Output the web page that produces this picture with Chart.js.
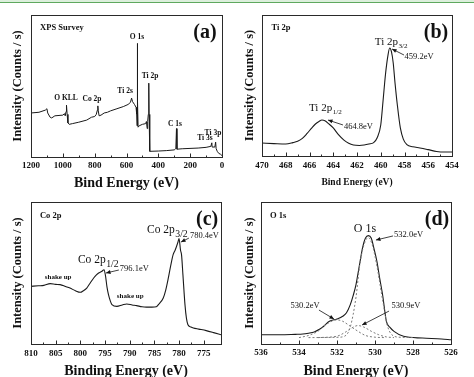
<!DOCTYPE html>
<html lang="en">
<head>
<meta charset="UTF-8">
<title>XPS spectra</title>
<script src="https://cdn.jsdelivr.net/npm/chart.js"></script>
<style>
  body { margin: 0; background: #fff; }
  #fig { position: relative; width: 474px; height: 377px; overflow: hidden; background: #fff; }
  #fig canvas { position: absolute; }
  .topline { position: absolute; left: 0; top: 0; width: 474px; height: 3px; background: #dcefdc; border-bottom: 1px solid #5ea85e; box-sizing: border-box; }
</style>
</head>
<body>
<div id="fig">
  <div class="topline"></div>
  <canvas id="chartA" width="237" height="190" style="left:0;top:0"></canvas>
  <canvas id="chartB" width="237" height="190" style="left:237px;top:0"></canvas>
  <canvas id="chartC" width="237" height="189" style="left:0;top:188px"></canvas>
  <canvas id="chartD" width="237" height="189" style="left:237px;top:188px"></canvas>
</div>
<script>
// (a) survey spectrum, intensity in arbitrary units (0-100)
const surveyEnergy = [1200, 1150, 1110, 1100, 1095, 1080, 1070, 1050, 1000, 990, 985, 980, 977, 973, 968, 960, 940, 900, 850, 820, 800, 790, 783, 780, 778, 772, 760, 740, 720, 700, 660, 620, 590, 575, 568, 562, 550, 540, 536, 534, 533, 531, 529, 527, 520, 500, 480, 475, 470, 467, 463, 460, 458, 455, 453, 400, 350, 300, 290, 286, 283, 250, 150, 100, 70, 64, 62, 45, 40, 37, 30, 20, 10, 0];
const surveyCounts = [31, 31.5, 33, 34, 31, 28, 27.5, 29, 29.5, 30.5, 29, 32, 36.5, 30, 24, 23, 23.5, 24.5, 26, 28, 28.5, 30, 33, 36, 33, 29, 29.5, 31, 31.5, 32.5, 34, 35.5, 37, 38.5, 41.5, 39, 37, 35, 30, 22, 30, 80, 40, 21, 22, 23, 23.5, 25, 20, 25, 30, 52, 30, 15, 4, 4.2, 4.5, 5, 6, 20, 5.5, 5.8, 6.3, 6.8, 7.5, 10, 7, 7, 10.5, 6, 4, 2.5, 2, 1];
const surveyTicks = [1200, 1000, 800, 600, 400, 200, 0];

// (b) Ti 2p
const ti2pEnergy = [470, 469, 468, 467.4, 467, 466.6, 466.2, 465.8, 465.5, 465.2, 464.95, 464.7, 464.4, 464, 463.6, 463.1, 462.7, 462.3, 461.8, 461.4, 461, 460.6, 460.3, 460, 459.8, 459.6, 459.4, 459.25, 459.1, 458.95, 458.8, 458.6, 458.35, 458.1, 457.8, 457.3, 456.7, 456, 455.3, 454.6, 454];
const ti2pCounts = [9.2, 8.8, 8.5, 9.5, 10.5, 12.5, 16, 20, 22.7, 24.5, 25.5, 25, 23, 19.9, 15.5, 11.3, 9, 7.8, 7.5, 7.8, 8.5, 9.5, 13, 22, 39.7, 58, 71, 76.6, 74, 66, 52, 36, 19.9, 12, 8, 6.5, 5.7, 4.5, 3.2, 2.8, 2.8];
const ti2pTicks = [470, 468, 466, 464, 462, 460, 458, 456, 454];

// (c) Co 2p
const co2pEnergy = [810, 808.5, 807.4, 806.1, 805, 804.1, 803, 802.1, 801, 800, 799.4, 798.7, 798, 797.3, 796.7, 796.3, 795.7, 795.2, 794.9, 794.6, 794.3, 793.9, 793.6, 792.6, 791.5, 790.6, 789.5, 788.6, 787.5, 786.6, 785.5, 784.6, 784, 783.2, 782.7, 782.2, 781.7, 781.2, 780.8, 780.5, 780.2, 780, 779.7, 779.5, 779.2, 778.8, 778.5, 778.2, 777.6, 777.1, 776, 774.5, 773, 771.5];
const co2pCounts = [40.6, 41, 41.3, 42.5, 42, 41.8, 40.5, 39.4, 37.5, 36.4, 37.5, 39.4, 43, 46.5, 48.8, 50, 51, 52.3, 48, 40, 34.7, 30, 27.7, 26.5, 27.5, 28.2, 27.5, 27, 26.2, 26, 26, 26.3, 28.5, 32.4, 38, 46, 55, 62.9, 66, 68.8, 72, 74.2, 66, 62.9, 48, 27.7, 18, 13.6, 12, 11.3, 10.5, 9.4, 8, 6.5];
const co2pTicks = [810, 805, 800, 795, 790, 785, 780, 775];

// (d) O 1s, measured curve and three fitted components
const o1sEnergy = [536, 535, 534.2, 533.8, 533.5, 533.2, 532.9, 532.7, 532.4, 532, 531.7, 531.5, 531.3, 531.15, 531, 530.8, 530.65, 530.5, 530.35, 530.2, 530.05, 529.9, 529.75, 529.6, 529.4, 529.2, 529, 528.5, 527.5, 526.5, 526];
const o1sCounts = [6.5, 6.5, 6.8, 7, 7.6, 8.5, 10.5, 12.5, 16, 17.6, 19.5, 22, 27.7, 34, 41.8, 57, 68, 74.6, 76.3, 74.6, 67, 58.2, 46, 34.7, 16, 11.5, 8.9, 5.4, 4.2, 3.5, 3];
const fitMainEnergy = [533.5, 532, 531.6, 531.3, 531, 530.8, 530.55, 530.35, 530.15, 529.9, 529.6, 529.35, 529, 528.6, 528];
const fitMainCounts = [4.5, 4.7, 5.5, 12, 33, 56, 71, 75, 70, 55, 31, 13, 5.5, 4.7, 4.5];
const fitHighEnergy = [534, 533.5, 533, 532.6, 532.2, 532, 531.7, 531.3, 530.9, 530.5, 530, 529.5];
const fitHighCounts = [4.5, 6, 9, 13.5, 16.5, 17, 16, 12.5, 9, 6, 4.8, 4.5];
const fitMidEnergy = [533, 532, 531.6, 531.2, 530.9, 530.6, 530.2, 529.8, 529.4, 529];
const fitMidCounts = [4.5, 5.5, 8, 11.5, 13, 12, 9, 6.5, 5, 4.5];
const o1sTicks = [536, 534, 532, 530, 528, 526];

// labels written on the panels (data coordinates)
const notesA = [
  { x: 1143, y: 90.8, text: 'XPS Survey', size: 8.5, bold: true, align: 'left' },
  { x: 107, y: 87.3, text: '(a)', size: 20, bold: true },
  { x: 534, y: 84.5, text: 'O 1s', size: 7.5, bold: true },
  { x: 452, y: 57, text: 'Ti 2p', size: 7.5, bold: true },
  { x: 609, y: 46.5, text: 'Ti 2s', size: 7.5, bold: true },
  { x: 980, y: 41.5, text: 'O KLL', size: 7.5, bold: true },
  { x: 817, y: 40.8, text: 'Co 2p', size: 7.5, bold: true },
  { x: 295, y: 23.2, text: 'C 1s', size: 7.5, bold: true },
  { x: 57, y: 16.9, text: 'Ti 3p', size: 7.5, bold: true },
  { x: 107, y: 13.4, text: 'Ti 3s', size: 7.5, bold: true }
];
const notesB = [
  { x: 469.2, y: 90.8, text: 'Ti 2p', size: 8.5, bold: true, align: 'left' },
  { x: 455.35, y: 87.2, text: '(b)', size: 20, bold: true },
  { x: 460.5, y: 80.9, text: 'Ti 2p', sub: '3/2', size: 11, align: 'left' },
  { x: 458.0, y: 70.2, text: '459.2eV', size: 8.5, align: 'left', arrow: [458.04, 71.6, 459.05, 75.9] },
  { x: 466.04, y: 34, text: 'Ti 2p', sub: '1/2', size: 11, align: 'left' },
  { x: 463.1, y: 20.6, text: '464.8eV', size: 8.5, align: 'left', arrow: [463.18, 22, 464.44, 25.5] }
];
const notesC = [
  { x: 808.2, y: 90.1, text: 'Co 2p', size: 8.5, bold: true, align: 'left' },
  { x: 774.3, y: 87.3, text: '(c)', size: 20, bold: true },
  { x: 786.5, y: 80.3, text: 'Co 2p', sub: '3/2', size: 11.5, subScale: 0.85, align: 'left' },
  { x: 777.8, y: 76, text: '780.4eV', size: 8.5, align: 'left', arrow: [778.0, 74.6, 779.6, 71.8] },
  { x: 800.5, y: 59.2, text: 'Co 2p', sub: '1/2', size: 11.5, subScale: 0.85, align: 'left' },
  { x: 792.0, y: 52.8, text: '796.1eV', size: 8.5, align: 'left', arrow: [792.2, 52.1, 794.8, 50] },
  { x: 804.5, y: 47.2, text: 'shake up', size: 7, bold: true },
  { x: 789.9, y: 33.8, text: 'shake up', size: 7, bold: true }
];
const notesD = [
  { x: 535.53, y: 90.1, text: 'O 1s', size: 8.5, bold: true, align: 'left' },
  { x: 526.74, y: 87.3, text: '(d)', size: 20, bold: true },
  { x: 530.53, y: 81, text: 'O 1s', size: 12 },
  { x: 529.0, y: 76.8, text: '532.0eV', size: 8.5, align: 'left', arrow: [529.05, 76.1, 529.95, 73.2] },
  { x: 533.68, y: 26.8, text: '530.2eV', size: 8.5, arrow: [532.95, 23.9, 532.16, 17.6] },
  { x: 528.37, y: 26.8, text: '530.9eV', size: 8.5, arrow: [529.26, 23.2, 530.68, 13.4] }
];

const serif = "'Liberation Serif', 'Times New Roman', serif";
Chart.defaults.font.family = serif;

function zip(xs, ys) {
  return xs.map((x, i) => ({ x: x, y: ys[i] }));
}

// box around the plot area + inward tick marks on the energy axis
const framePlugin = {
  id: 'frame',
  afterDatasetsDraw(chart) {
    const { ctx, chartArea: a } = chart;
    const x = chart.scales.x;
    ctx.save();
    ctx.strokeStyle = '#2a2a2a';
    ctx.lineWidth = 1;
    ctx.strokeRect(Math.round(a.left) + 0.5, Math.round(a.top) + 0.5, Math.round(a.width), Math.round(a.height));
    const vals = x.ticks.map(t => t.value).sort((p, q) => p - q);
    const bottom = Math.round(a.bottom) + 0.5;
    ctx.beginPath();
    vals.forEach((v, i) => {
      const px = Math.round(x.getPixelForValue(v)) + 0.5;
      ctx.moveTo(px, bottom); ctx.lineTo(px, bottom - 4);
      if (i < vals.length - 1) {
        const m = Math.round(x.getPixelForValue((v + vals[i + 1]) / 2)) + 0.5;
        ctx.moveTo(m, bottom); ctx.lineTo(m, bottom - 2);
      }
    });
    ctx.stroke();
    ctx.restore();
  }
};

// peak labels, subscripts and small arrows
const notesPlugin = {
  id: 'notes',
  afterDraw(chart, args, opts) {
    const { ctx } = chart;
    const sx = chart.scales.x, sy = chart.scales.y;
    ctx.save();
    ctx.fillStyle = '#111';
    ctx.strokeStyle = '#111';
    ctx.textBaseline = 'middle';
    (opts.items || []).forEach(n => {
      const px = sx.getPixelForValue(n.x), py = sy.getPixelForValue(n.y);
      const weight = n.bold ? 'bold ' : '';
      ctx.font = weight + n.size + 'px ' + serif;
      const w1 = ctx.measureText(n.text).width;
      let w2 = 0;
      const subSize = n.size * (n.subScale || 0.65);
      if (n.sub) {
        ctx.font = weight + subSize + 'px ' + serif;
        w2 = ctx.measureText(n.sub).width;
      }
      let left = px;
      if ((n.align || 'center') === 'center') left = px - (w1 + w2) / 2;
      ctx.textAlign = 'left';
      ctx.font = weight + n.size + 'px ' + serif;
      ctx.fillText(n.text, left, py);
      if (n.sub) {
        ctx.font = weight + subSize + 'px ' + serif;
        ctx.fillText(n.sub, left + w1 + 0.5, py + n.size * 0.35);
      }
      if (n.arrow) {
        const x1 = sx.getPixelForValue(n.arrow[0]), y1 = sy.getPixelForValue(n.arrow[1]);
        const x2 = sx.getPixelForValue(n.arrow[2]), y2 = sy.getPixelForValue(n.arrow[3]);
        const ang = Math.atan2(y2 - y1, x2 - x1);
        ctx.lineWidth = 0.8;
        ctx.beginPath();
        ctx.moveTo(x1, y1); ctx.lineTo(x2, y2);
        ctx.stroke();
        ctx.beginPath();
        ctx.moveTo(x2, y2);
        ctx.lineTo(x2 - 4.5 * Math.cos(ang) + 2 * Math.sin(ang), y2 - 4.5 * Math.sin(ang) - 2 * Math.cos(ang));
        ctx.lineTo(x2 - 4.5 * Math.cos(ang) - 2 * Math.sin(ang), y2 - 4.5 * Math.sin(ang) + 2 * Math.cos(ang));
        ctx.closePath();
        ctx.fill();
      }
    });
    ctx.restore();
  }
};

function makePanel(id, cfg) {
  const cv = document.getElementById(id);
  const W = cv.width, H = cv.height;
  const box = cfg.box; // left, top, right, bottom of the plot area in canvas pixels
  const xTitleSize = cfg.xTitleSize;
  return new Chart(cv, {
    type: 'line',
    data: { datasets: cfg.datasets },
    options: {
      responsive: false,
      animation: false,
      layout: { padding: { left: 0, top: box[1], right: W - box[2], bottom: 0 } },
      elements: { point: { radius: 0 } },
      plugins: {
        legend: { display: false },
        tooltip: { enabled: false },
        notes: { items: cfg.notes }
      },
      scales: {
        x: {
          type: 'linear',
          reverse: true,
          min: cfg.xMin,
          max: cfg.xMax,
          afterBuildTicks: s => { s.ticks = cfg.ticks.map(v => ({ value: v })); },
          afterFit: s => { s.height = H - box[3]; },
          grid: { display: false, drawTicks: false },
          border: { display: false },
          ticks: {
            autoSkip: false, maxRotation: 0, padding: cfg.tickPad, color: '#111',
            font: { size: 9, weight: 'bold' },
            callback: v => v
          },
          title: {
            display: true, text: cfg.xTitle, color: '#111',
            font: { size: xTitleSize, weight: 'bold', lineHeight: 1 },
            padding: { top: 0, bottom: H - cfg.xTitleY - xTitleSize / 2 }
          }
        },
        y: {
          min: 0,
          max: 100,
          afterFit: s => { s.width = box[0]; },
          grid: { display: false, drawTicks: false },
          border: { display: false },
          ticks: { display: false },
          title: {
            display: true, text: 'Intensity (Counts / s)', color: '#111',
            font: { size: 12.5, weight: 'bold', lineHeight: 1 },
            padding: { top: cfg.yTitleX - 6.25, bottom: 0 }
          }
        }
      }
    },
    plugins: [framePlugin, notesPlugin]
  });
}

const solid = { borderColor: '#1a1a1a', borderWidth: 1.1, pointRadius: 0, fill: false };
const smooth = Object.assign({}, solid, { cubicInterpolationMode: 'monotone' });
const dashed = { borderColor: '#7a7a7a', borderWidth: 1, borderDash: [2, 2], pointRadius: 0, fill: false, cubicInterpolationMode: 'monotone' };

makePanel('chartA', {
  box: [31, 15, 222, 157], xMin: 0, xMax: 1200, ticks: surveyTicks, tickPad: 3,
  xTitle: 'Bind Energy (eV)', xTitleSize: 14, xTitleY: 183, yTitleX: 18,
  notes: notesA,
  datasets: [Object.assign({ data: zip(surveyEnergy, surveyCounts) }, solid, { borderWidth: 1 })]
});

makePanel('chartB', {
  box: [25, 15, 215, 156], xMin: 454, xMax: 470, ticks: ti2pTicks, tickPad: 4.5,
  xTitle: 'Bind Energy (eV)', xTitleSize: 9.5, xTitleY: 183, yTitleX: 13,
  notes: notesB,
  datasets: [Object.assign({ data: zip(ti2pEnergy, ti2pCounts) }, smooth)]
});

makePanel('chartC', {
  box: [31, 14, 221, 156], xMin: 771.5, xMax: 810, ticks: co2pTicks, tickPad: 4,
  xTitle: 'Binding Energy (eV)', xTitleSize: 14, xTitleY: 183, yTitleX: 18,
  notes: notesC,
  datasets: [Object.assign({ data: zip(co2pEnergy, co2pCounts) }, smooth)]
});

makePanel('chartD', {
  box: [24, 14, 214, 156], xMin: 526, xMax: 536, ticks: o1sTicks, tickPad: 3.5,
  xTitle: 'Bind Energy (eV)', xTitleSize: 14, xTitleY: 183, yTitleX: 12.7,
  notes: notesD,
  datasets: [
    Object.assign({ data: zip(fitMainEnergy, fitMainCounts) }, dashed),
    Object.assign({ data: zip(fitHighEnergy, fitHighCounts) }, dashed),
    Object.assign({ data: zip(fitMidEnergy, fitMidCounts) }, dashed),
    Object.assign({ data: zip(o1sEnergy, o1sCounts) }, smooth)
  ]
});
</script>
</body>
</html>
